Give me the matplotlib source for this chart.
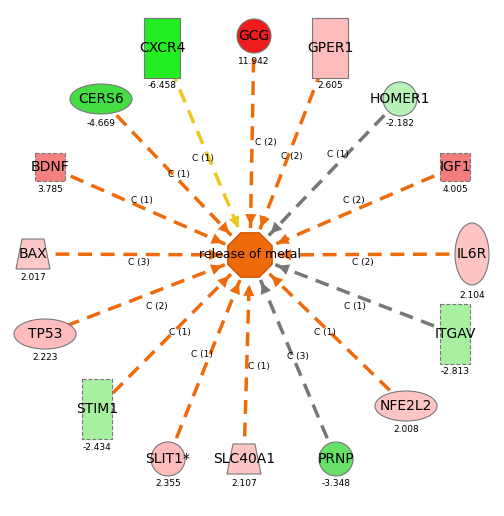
import matplotlib.pyplot as plt
from matplotlib.patches import Rectangle, Ellipse, Circle, Polygon, RegularPolygon

genes = ["CXCR4", "GCG", "GPER1", "HOMER1", "CERS6", "BDNF", "IGF1", "BAX",
         "IL6R", "TP53", "ITGAV", "STIM1", "NFE2L2", "SLIT1*", "SLC40A1", "PRNP"]
values = ["-6.458", "11.942", "2.605", "-2.182", "-4.669", "3.785", "4.005", "2.017",
          "2.104", "2.223", "-2.813", "-2.434", "2.008", "2.355", "2.107", "-3.348"]
edge_labels = ["C (1)", "C (2)", "C (2)", "C (1)", "C (1)", "C (1)", "C (2)", "C (3)",
               "C (2)", "C (2)", "C (1)", "C (1)", "C (1)", "C (1)", "C (1)", "C (3)"]
center_label = "release of metal"

# layout (pixel coords) and styling
pos = [(162, 48), (254, 36), (330, 48), (400, 99), (101, 99), (50, 167), (455, 167), (33, 254),
       (472, 254), (45, 334), (455, 334), (97, 409), (406, 406), (168, 459), (244, 459), (336, 459)]
shapes = ["rect", "circle", "rect", "circle", "ellipse", "drect", "drect", "trap",
          "vellipse", "ellipse", "drect", "drect", "ellipse", "circle", "trap", "circle"]
fills = ["#22ee22", "#ee1c1c", "#ffbcbc", "#b8f2b8", "#44dd44", "#f58080", "#f47c7c", "#ffc8c8",
         "#ffc4c4", "#ffbcbc", "#a8f0a0", "#a8f0a0", "#ffc4c4", "#ffbcbc", "#ffc4c4", "#66e066"]
edge_cols = ["#ecc81c", "#ee6a0a", "#ee6a0a", "#777777", "#ee6a0a", "#ee6a0a", "#ee6a0a", "#ee6a0a",
             "#ee6a0a", "#ee6a0a", "#777777", "#ee6a0a", "#ee6a0a", "#ee6a0a", "#ee6a0a", "#777777"]
label_pos = [(203, 158), (266, 143), (292, 156), (338, 155), (179, 174), (142, 201), (354, 200), (139, 262),
             (363, 262), (157, 307), (355, 307), (180, 333), (325, 333), (202, 354), (259, 366), (298, 356)]
cx, cy = 250, 255

fig = plt.figure(figsize=(5.04, 5.16), dpi=100)
ax = fig.add_axes([0, 0, 1, 1])
ax.set_xlim(0, 504)
ax.set_ylim(516, 0)
ax.axis("off")

for (x, y), col, lab, lp in zip(pos, edge_cols, edge_labels, label_pos):
    dx, dy = cx - x, cy - y
    d = (dx ** 2 + dy ** 2) ** 0.5
    ex, ey = cx - dx / d * 27, cy - dy / d * 27
    ax.plot([x, ex], [y, ey], color=col, lw=2.5, ls=(0, (4, 2.5)), zorder=1)
    ax.annotate("", xy=(ex, ey), xytext=(ex - dx / d * 12, ey - dy / d * 12),
                arrowprops=dict(arrowstyle="-|>,head_length=0.8,head_width=0.4", color=col, lw=0), zorder=2)
    ax.text(lp[0], lp[1], lab, fontsize=6.5, ha="center", va="center", zorder=3)

ax.add_patch(RegularPolygon((cx, cy), 8, radius=24, orientation=3.14159 / 8,
                            facecolor="#ee6a0a", edgecolor="#cc5500", zorder=4))
ax.text(cx, cy, center_label, fontsize=9, ha="center", va="center", zorder=5)

for g, v, (x, y), s, fc in zip(genes, values, pos, shapes, fills):
    kw = dict(facecolor=fc, edgecolor="#777777", lw=0.8, zorder=4)
    if s == "rect":
        w, h = 36, 60
        ax.add_patch(Rectangle((x - w / 2, y - h / 2), w, h, **kw))
        vy = y + h / 2 + 8
    elif s == "drect":
        w, h = 30, 60 if y > 300 else 28
        ax.add_patch(Rectangle((x - w / 2, y - h / 2), w, h, ls="--", **kw))
        vy = y + h / 2 + 8
    elif s == "circle":
        ax.add_patch(Circle((x, y), 17, **kw))
        vy = y + 25
    elif s == "ellipse":
        ax.add_patch(Ellipse((x, y), 62, 30, **kw))
        vy = y + 24
    elif s == "vellipse":
        ax.add_patch(Ellipse((x, y), 34, 62, **kw))
        vy = y + 42
    else:
        ax.add_patch(Polygon([(x - 11, y - 15), (x + 11, y - 15), (x + 17, y + 15), (x - 17, y + 15)], **kw))
        vy = y + 24
    ax.text(x, y, g, fontsize=10, ha="center", va="center", zorder=5)
    ax.text(x, vy, v, fontsize=6.5, ha="center", va="center", zorder=5)

fig.savefig("out.png", dpi=100)
